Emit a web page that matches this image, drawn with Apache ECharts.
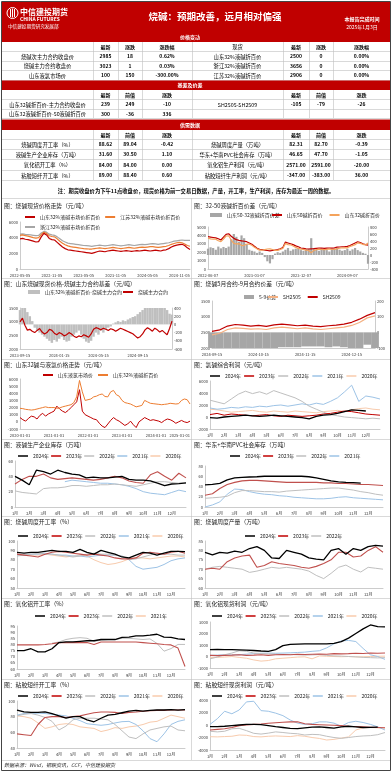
<!DOCTYPE html>
<html><head><meta charset="utf-8">
<script src="https://cdn.jsdelivr.net/npm/echarts@6/dist/echarts.min.js"></script>
<style>html,body{margin:0;padding:0;background:#fff;}#c{width:392px;height:772px;}</style>
</head><body><div id="c"></div>
<script>
const FONT = '"Noto Sans CJK SC","Noto Sans",sans-serif';

// ---------------- table data ----------------
const PRICE_HEAD = ['', '最新', '涨跌', '涨跌幅', '现货', '最新', '涨跌', '涨跌幅'];
const PRICE_ROWS = [
  ['烧碱次主力合约收盘价','2985','18','0.62%','山东32%液碱折百价','2500','0','0.00%'],
  ['烧碱主力合约收盘价','3023','1','0.03%','浙江32%液碱折百价','3656','0','0.00%'],
  ['山东液氯市场价','100','150','-300.00%','江苏32%液碱折百价','2906','0','0.00%']
];
const SPREAD_HEAD = ['', '最新', '前值', '涨跌', '', '最新', '前值', '涨跌'];
const SPREAD_ROWS = [
  ['山东32碱折百价-主力合约收盘价','239','249','-10','SH2505-SH2509','-105','-79','-26'],
  ['山东32液碱折百价-50液碱折百价','300','-36','336','','','','']
];
const SUPPLY_HEAD = ['', '最新', '前值', '涨跌', '', '最新', '前值', '涨跌'];
const SUPPLY_ROWS = [
  ['烧碱周度开工率（%）','88.62','89.04','-0.42','烧碱周度产量（万吨）','82.31','82.70','-0.39'],
  ['液碱生产企业库存（万吨）','31.60','30.50','1.10','华东+华南PVC社会库存（万吨）','46.65','47.70','-1.05'],
  ['氧化铝开工率（%）','84.00','84.00','0.00','氧化铝生产利润（元/吨）','2571.00','2591.00','-20.00'],
  ['粘胶短纤开工率（%）','89.00','88.40','0.60','粘胶短纤生产利润（元/吨）','-347.00','-383.00','36.00']
];

// ---------------- tick labels ----------------
const TICKS1 = ['2022-05-05','2022-11-05','2023-05-05','2023-11-05','2024-05-05','2024-11-05'];
const TICKS2 = ['2022-06-07','2023-03-07','2023-12-07','2024-09-07'];
const TICKS3 = ['2023-09-15','2024-01-15','2024-05-15','2024-09-15'];
const TICKS4 = ['2024-09-15','2024-10-15','2024-11-15','2024-12-15'];
const TICKS5 = ['2020-01-01','2021-01-01','2022-01-01','2023-01-01','2024-01-01','2025-01-01'];
const MONTH_TICKS = ['1月','2月','3月','4月','5月','6月','7月','8月','9月','10月','11月','12月'];

// ---------------- chart 1: 烧碱现货价格走势 ----------------
const C1_ZJ = [4450,4480,4420,4400,4350, 4300,4250,4280,4600,4800, 4700,4450,4350,4300,4100, 3850,3600,3450,3300,3250, 3200,3150,3100,3050,3000, 2980,2950,2900,2950,3000, 3050,3000,2950,3000,3050, 3100,3050,3000,2950,3000, 3050,3100,3050,3000,3050, 3100,3150,3100,3150,3200, 3250,3200,3150,3200,3250, 3300,3350,3450,3550,3600, 3650,3700,3650,3656,3656];
const C1_JS = [4300,4350,4250,4200,4100, 4000,3950,4000,4400,4700, 4550,4250,4150,4100,3850, 3550,3300,3100,2950,2850, 2800,2750,2700,2650,2600, 2580,2550,2550,2600,2650, 2700,2650,2600,2650,2700, 2750,2700,2650,2600,2650, 2700,2750,2700,2650,2700, 2750,2800,2750,2800,2850, 2850,2800,2750,2800,2850, 2900,3000,3150,3250,3350, 3400,3350,3200,3000,2906];
const C1_SD = [3850,3900,3800,3750,3650, 3550,3450,3500,4100,4550, 4350,3900,3750,3700,3400, 3100,2800,2600,2450,2400, 2350,2300,2250,2200,2150, 2100,2050,2000,2100,2200, 2300,2250,2200,2300,2350, 2400,2350,2300,2250,2300, 2350,2300,2250,2300,2350, 2300,2350,2400,2350,2300, 2350,2400,2350,2300,2400, 2450,2600,2800,2950,3050, 3100,3150,3000,2700,2500];

// ---------------- chart 2: 32-50 液碱折百价差 ----------------
const C2_SPREAD = [180,220,200,150,240, 190,230,200,240,450, 600,520,380,560,480, 300,150,120,100,60, 100,60,-60,-180,-240, -120,40,80,60,100, 150,200,120,160,180, 200,140,120,160,180, 480,200,150,120,180, 160,140,100,160,180, 200,150,120,140,180, 120,160,200,140,100, 60,36,-250];
const C2_SD50 = [3850,3800,3750,3700,3600, 3450,3800,4130,4200,3900, 3650,3500,3400,3350,3300, 3250,3100,2950,2700,2460, 2350,2300,2250,2200,2150, 2200,2250,2300,2400,2550, 3200,3100,3000,2900,2750, 2650,2500,2460,2400,2380, 2400,2420,2450,2480,2500, 2460,2480,2500,2480,2520, 2600,2620,2650,2660,2700, 2800,2950,3100,3250,3150, 3000,2900,2850];
const C2_SD32 = [3670,3580,3550,3550,3360, 3260,3570,3930,3960,3450, 3050,2980,3020,2790,2820, 2950,2950,2830,2600,2400, 2250,2240,2310,2380,2390, 2320,2210,2220,2340,2450, 3050,2900,2880,2740,2570, 2450,2360,2340,2240,2200, 1920,2220,2300,2360,2320, 2300,2340,2400,2320,2340, 2400,2470,2530,2520,2520, 2680,2790,2900,3110,3050, 2940,2864,3100];

// ---------------- chart 3: 基差 ----------------
const C3_BASIS = [350,420,400,300,200, 80,-80,-150,-200,-250, -300,-350,-400,-450,-380, -420,-350,-300,-380,-420, -400,-300,-250,-200,-150, -250,-350,-420,-450,-400, -300,-200,-250,-150,-200, -120,-80,-50,20,50, 80,60,100,80,120, 150,180,200,250,300, 350,450,520,550,500, 530,560,520,480,420, 350,260,239];
const C3_MAIN = [2990,3130,2870,2690,2720, 2650,2600,2680,2750,2620, 2550,2600,2720,2680,2580, 2520,2600,2560,2480,2520, 2600,2550,2470,2420,2480, 2450,2520,2480,2430,2550, 2720,2780,2750,2700,2760, 2720,2680,2740,2710,2650, 2700,2760,2720,2680,2640, 2600,2560,2480,2400,2450, 2550,2700,2780,2720,2650, 2760,2700,2620,2680,2600, 2520,2750,3020];

// ---------------- chart 4: 5-9 价差 ----------------
const C4_SPREAD = [-110,-110,-110,-110,-105,-100,-105,-100,-100,-95,-95,-95,-90,-90,-90,-95,-90,-95,-100,-105,-79,-105];
const C4_SH2505 = [2420,2470,2590,2640,2625,2600,2615,2590,2640,2665,2645,2615,2640,2610,2590,2615,2640,2665,2720,2815,2961,3023];
const C4_SH2509 = [2530,2580,2700,2750,2730,2700,2720,2690,2740,2760,2740,2710,2730,2700,2680,2710,2730,2760,2820,2920,3040,3128];

// ---------------- chart 5: 32碱与液氯 ----------------
const C5_CL = [600,300,100,500,800,700,400,900,1200,800,1100,1300,
  1500,2200,1800,1500,1300,1600,2000,2400,2800,4500,1500,1000,
  800,600,400,300,-200,-600,-800,-300,200,600,300,100,
  -200,-500,-300,100,-400,-800,0,300,600,400,200,300,
  200,100,-100,200,400,300,100,-200,0,200,0,-100, 100];
const C5_NAOH = [1900,1850,1750,1700,1650,1700,1800,1900,2000,2100,2000,2000,
  2000,1900,1950,2100,2200,2300,2400,2700,3500,5800,4200,3000,
  3100,3200,3500,3600,3800,3900,3550,3500,4200,4400,3800,3600,
  3000,2700,2600,2500,2300,2100,2200,2300,3000,2800,2600,2550,
  2500,2450,2400,2450,2500,2600,2550,2500,2550,3000,3200,3100, 2500];

// ---------------- chart 6: 氯碱综合利润 ----------------
const C6_2024 = [-100,-200,0,100,200,300,200,100,200,300,200,100,0,-100,-300,100,300,400,600,900,1200,1100,1000];
const C6_2023 = [400,600,300,500,400,300,200,300,400,200,100,300,200,100,200,300,500,600,800,1000,900,700,500,400,300];
const C6_2022 = [2800,2500,2200,3000,3800,4300,3900,4200,3800,4400,4000,3600,3200,2600,1800,1300,800,400,200,0,-100,-200,-300,-200,-300];
const C6_2021 = [1500,1300,1400,1600,1500,1700,1600,1800,1700,1900,2000,1800,2000,2200,2000,2300,2100,2600,3200,4200,5300,2600,3500,3300,3000];
const C6_2020 = [1300,1200,1000,800,900,1000,1100,900,800,1000,900,800,1000,900,800,700,900,1000,1100,900,1200,1400,1500,1300,1200];

// ---------------- chart 7: 液碱生产企业库存 ----------------
const C7_2024 = [40,35,29,48,46,43,48,45,43,42,38,39,38,38,39,40,36,35,35,34,31,28,30,30.5,31.6];
const C7_2023 = [30,36,40,40,43,38,36,37,38,37,36,35,36,38,40,38,34,32,31,42,46,40,35,44,38];
const C7_2022 = [21,19,18,17,24,25,25,26,28,28,27,28,29,29,30,29,28,27,29,31,33,33,32,31,31];
const C7_2021 = [null,null,null,null,null,null,null,33,35,34,33,32,31,31,30,29,27,24,20,18,17,16,19,22,20];
const C7_2020 = [];

// ---------------- chart 8: 华东+华南PVC社会库存 ----------------
const C8_2024 = [43,44,46,53,57,58,58.5,59,60,60,60,60,60,60,59,57,54,51,49,48,47.7,46.65];
const C8_2023 = [23,26,36,44,48,51,52,52,51,50,49,48,48,48,48,48,47,47,46,46,45,44,44,43,42];
const C8_2022 = [17,18,19,21,28,32,32,31,30,30,29,31,32,33,34,35,36,37,37,35,33,30,28,25,23];
const C8_2021 = [0,4,10,25,35,34,30,27,25,24,22,21,19,18,17,16,16,17,19,20,18,17,16,15,14];

// ---------------- chart 9: 烧碱周度开工率 ----------------
const C9_2024 = [88,87,88,88,89,90,89,89,88,91,88,86,90,88,86,83,82,85,88,87,85,87,89,89.04,88.62];
const C9_2023 = [86,85,84,83,86,88,89,88,87,86,85,86,85,84,82,81,81,82,87,88,87,86,88,89,87];
const C9_2022 = [84,85,86,87,86,86,85,84,83,84,86,87,86,86,85,84,80,81,83,85,87,86,86,85,85];
const C9_2021 = [85,85,86,86,87,86,85,85,84,84,83,84,85,85,85,84,80,73,70,71,72,75,79,81,82];
const C9_2020 = [85,85,85,85,86,85,84,83,84,85,84,80,77,75,76,78,81,82,82,81,82,83,84,84,83];

// ---------------- chart 10: 烧碱周度产量 ----------------
const C10_2024 = [79,77.6,79,78.5,79.6,79,81,82,80,76,75.7,80,79,78,76,75.4,75,80,81,78,81,80,82,82.7,82.31];
const C10_2023 = [70,70.5,70,74,76,77,77.5,71,72,74,73,72.5,72,71,70.5,71.5,73,75,79,79,76.5,77,80,82,79];
const C10_2022 = [70,71,71.5,71,70.5,70,68.3,69,70,71,70.5,71,70.5,70,69,66.7,65,67.8,71,72.2,70,68.5,71,70.5,70];

// ---------------- chart 11: 氧化铝开工率 ----------------
const C11_2024 = [75,75,76.5,74,74,76.5,81.5,82,82,82.5,83,83,84,84,84,85.8,86,87,87,87.5,88.3,86,85.8,84.5,84];
const C11_2023 = [79.6,79.6,79.6,79.6,80,80.5,81.5,81.5,81.5,81.5,81.5,80,82,82,82,82,82,82,81.5,81,80.5,80,79.6,77,62];
const C11_2022 = [null,null,null,null,null,81,82,84,85,85.5,85,82.6,83.3,84,84,85,85,84.5,84,84.5,80.8,74.5,76.6,80,80];
const C11_2021 = [];

// ---------------- chart 12: 氧化铝现货利润 ----------------
const C12_2024 = [600,620,600,600,580,560,520,480,450,600,950,1050,1080,1100,1100,1100,1100,1150,1300,1600,2000,2400,2740,2591,2571];
const C12_2023 = [100,80,100,120,150,100,120,150,100,150,180,150,200,180,200,220,200,250,230,250,280,260,300,280,300];
const C12_2022 = [-200,-50,150,300,500,450,300,250,230,200,180,170,150,120,140,170,100,50,30,0,-30,-80,-100,-120,-100];
const C12_2021 = [100,120,150,130,160,200,250,280,300,280,300,320,350,380,450,500,750,1100,1350,1400,1300,700,150,0,-250];
const C12_2020 = [-100,-80,-50,0,-80,-150,-300,-400,-350,-200,-150,-100,-50,-30,-200,50,20,0,-20,0,-30,-20,0,20,30];

// ---------------- chart 13: 粘胶短纤开工率 ----------------
const C13_2024 = [88.5,86,85.5,85.5,86,84,81,78,80,80,76,73.5,78,82,83,85,87,88,87,88,88.5,88.5,89,88.4,89];
const C13_2023 = [58,57,56,70,79,80,80,79,80,81,83,85,86,86,85.5,84,85.5,86,87,87.5,88,88,88.5,88.5,88.5];
const C13_2022 = [81,83,84,82,79,74,63,68,76,78,78,78,77,76,70,62,54,52,58,63,65,67,68,63,62];
const C13_2021 = [82,84,84,84.5,84,83,82,81,78,75,71,70,69,70,72,73.6,74,70,62,52,48,58,70,74,76];
const C13_2020 = [81,80,78,72,65,67,70,71,70,67,66,65,61,63,66,65,67,68,70,73,74,78,82,80,78];

// ---------------- chart 14: 粘胶短纤现货利润 ----------------
const C14_2024 = [-270,-250,-200,-100,0,100,110,50,-100,-270,-400,-530,-580,-450,-350,-300,-400,-500,-300,-200,-300,-400,-383,-347];
const C14_2023 = [-800,-700,-600,-400,-100,0,100,150,270,350,430,500,530,200,100,50,0,-50,-100,-200,-250,-300,-350,-400,-450];
const C14_2022 = [-1000,-1100,-1000,-600,-530,-900,-1330,-1450,-1300,-1100,-1200,-1330,-1400,-1600,-1500,-1550,-1800,-2000,-2130,-2000,-1850,-1750,-1700,-1550,-1200];
const C14_2021 = [100,1000,2200,1800,2400,3700,3800,2300,2200,1900,1500,800,300,100,200,500,500,300,-200,400,600,400,100,-300,-800];
const C14_2020 = [-1870,-1900,-1850,-1800,-1600,-1650,-1850,-1900,-1800,-1750,-1800,-1850,-1700,-1800,-2000,-2150,-2400,-2300,-2100,-1900,-800,-450,-400,-450,-500];

// ---------------- category builders ----------------
function pad(n){ return (n < 10 ? '0' : '') + n; }
function dateCats(y, m, days, startIdx, count) {
  const out = []; let di = startIdx;
  while (out.length < count) {
    out.push(y + '-' + pad(m) + '-' + pad(days[di]));
    di++;
    if (di >= days.length) { di = 0; m++; if (m > 12) { m = 1; y++; } }
  }
  return out;
}
const CATS1 = dateCats(2022, 5, [5, 20], 0, C1_SD.length);
const CATS2 = dateCats(2022, 6, [7, 22], 0, C2_SD50.length);
const CATS3 = dateCats(2023, 9, [1, 8, 15, 22], 2, C3_MAIN.length);
const CATS4 = dateCats(2024, 9, [5, 10, 15, 20, 25, 30], 2, C4_SH2509.length);
const CATS5 = dateCats(2020, 1, [1], 0, C5_CL.length);
const SEASON_CATS = [];
MONTH_TICKS.forEach(function (m) { SEASON_CATS.push(m); SEASON_CATS.push(m + '下旬'); });
SEASON_CATS.push('年末');

// ---------------- colors ----------------
const Y24 = '#000000', Y23 = '#c0504d', Y22 = '#bfbfbf', Y21 = '#9dc3e6', Y20 = '#f8cbad';
const RED = '#c00000', ORANGE = '#ed7d31', GRAY = '#a6a6a6';

// ---------------- graphic (header, tables, panels) ----------------
const G = [];
function rect(x, y, w, h, fill, stroke, lw) {
  G.push({ type: 'rect', silent: true, shape: { x: x, y: y, width: w, height: h },
    style: { fill: fill || 'none', stroke: stroke || 'none', lineWidth: lw || 1 } });
}
function hline(x1, x2, y, color, lw) {
  G.push({ type: 'line', silent: true, shape: { x1: x1, y1: y, x2: x2, y2: y }, style: { stroke: color, lineWidth: lw || 0.6 } });
}
function vline(x, y1, y2, color, lw) {
  G.push({ type: 'line', silent: true, shape: { x1: x, y1: y1, x2: x, y2: y2 }, style: { stroke: color, lineWidth: lw || 0.6 } });
}
function txt(x, y, text, size, opt) {
  opt = opt || {};
  G.push({ type: 'text', silent: true, z: 10, style: { x: x, y: y, text: text,
    font: (opt.italic ? 'italic ' : '') + (opt.bold ? 'bold ' : '') + size + 'px ' + FONT,
    fill: opt.color || '#000', textAlign: opt.align || 'center', textVerticalAlign: 'middle' } });
}

// header
rect(2, 2, 388, 40, RED);
G.push({ type: 'circle', silent: true, shape: { cx: 12.5, cy: 13, r: 5.5 }, style: { fill: 'none', stroke: '#fff', lineWidth: 1 } });
vline(10.5, 9, 17, '#fff', 1); vline(12.5, 8.5, 17.5, '#fff', 1); vline(14.5, 9, 17, '#fff', 1);
txt(20, 12, '中信建投期货', 8, { bold: true, color: '#fff', align: 'left' });
txt(20, 19.5, 'CHINA FUTURES', 5, { bold: true, color: '#fff', align: 'left' });
txt(8, 26.5, '中信建投期货研究发展部', 4.6, { color: '#fff', align: 'left' });
txt(215, 16, '烧碱：预期改善，远月相对偏强', 9.5, { bold: true, color: '#fff' });
txt(362, 19.5, '本报告完成时间', 5, { bold: true, color: '#fff' });
txt(362, 27, '2025年1月3日', 5, { color: '#fff' });
txt(190, 37, '价格变动', 5, { bold: true, color: '#fff' });

const TCOLS = [2, 93, 118, 142, 192, 283, 309, 333, 390];
const LINEC = '#bfbfbf';
function drawTable(head, rows, rowEdges) {
  const top = rowEdges[0], bottom = rowEdges[rowEdges.length - 1];
  for (let i = 1; i < rowEdges.length; i++) hline(2, 390, rowEdges[i] + 0.5, LINEC);
  for (let c = 1; c < TCOLS.length - 1; c++) vline(TCOLS[c] + 0.5, top, bottom, LINEC);
  const all = [head].concat(rows);
  all.forEach(function (row, r) {
    const cy = (rowEdges[r] + rowEdges[r + 1]) / 2 + 0.5;
    row.forEach(function (cell, c) {
      if (!cell) return;
      const cx = (TCOLS[c] + TCOLS[c + 1]) / 2;
      const isLabel = (c === 0 || c === 4);
      const bold = r === 0 ? !(c === 4) : !isLabel;
      txt(cx, cy, cell, isLabel ? 5.3 : 5, { bold: bold, color: '#000' });
    });
  });
}
drawTable(PRICE_HEAD, PRICE_ROWS, [42, 51, 61, 70, 80]);
rect(2, 80.5, 388, 9.5, RED);
txt(190, 85.5, '基差及价差', 5, { bold: true, color: '#fff' });
drawTable(SPREAD_HEAD, SPREAD_ROWS, [90, 99, 109, 118]);
rect(2, 119.5, 388, 10.5, RED);
txt(190, 125, '供需数据', 5, { bold: true, color: '#fff' });
drawTable(SUPPLY_HEAD, SUPPLY_ROWS, [130, 139, 149, 159, 170, 180]);
txt(196, 191, '注：期货收盘价为下午11点收盘价，现货价格为前一交易日数据，产量，开工率，生产利润，库存为最近一周的数据。', 5.3, { bold: true });

// panels
const ROW_TOPS = [198, 278, 359, 439, 516, 598, 679];
const TITLE_Y = [206, 284, 365, 445, 522, 604, 685];
ROW_TOPS.forEach(function (y) { hline(2, 390, y + 0.5, LINEC); });
hline(2, 390, 760.5, LINEC);
vline(191.5, 198, 760, LINEC);
const TITLES = [
  ['图：烧碱现货价格走势（元/吨）', '图：32-50液碱折百价差（元/吨）'],
  ['图：山东烧碱现货价格-烧碱主力合约基差（元/吨）', '图：烧碱5月合约-9月合约价差（元/吨）'],
  ['图：山东32碱与液氯价格走势（元/吨）', '图：氯碱综合利润（元/吨）'],
  ['图：液碱生产企业库存（万吨）', '图：华东+华南PVC社会库存（万吨）'],
  ['图：烧碱周度开工率（%）', '图：烧碱周度产量（万吨）'],
  ['图：氧化铝开工率（%）', '图：氧化铝现货利润（元/吨）'],
  ['图：粘胶短纤开工率（%）', '图：粘胶短纤现货利润（元/吨）']
];
TITLES.forEach(function (pair, i) {
  txt(4, TITLE_Y[i], pair[0], 5.8, { align: 'left', color: '#222' });
  txt(194, TITLE_Y[i], pair[1], 5.8, { align: 'left', color: '#222' });
});
txt(4, 765.5, '数据来源：Wind，钢联资讯，CCF，中信建投期货', 5, { align: 'left', italic: true, color: '#333' });
rect(1.5, 1.5, 389, 769, 'none', '#444', 1);

// ---------------- charts ----------------
const grids = [], xAxes = [], yAxes = [], series = [], legends = [];
const AXC = '#bfbfbf';
function plainNum(v) { return String(v); }
function addChart(g, cats, intervalFn, yDefs, xExtra) {
  const gi = grids.length;
  grids.push({ left: g[0], top: g[1], width: g[2], height: g[3], containLabel: false, outerBoundsMode: 'none' });
  const xi = xAxes.length;
  xAxes.push(Object.assign({
    type: 'category', gridIndex: gi, data: cats, boundaryGap: false,
    axisLine: { onZero: false, lineStyle: { color: AXC, width: 0.8 } },
    axisTick: { show: false }, splitLine: { show: false },
    axisLabel: { fontSize: 4, color: '#333', margin: 4, interval: intervalFn, fontFamily: FONT, hideOverlap: false }
  }, xExtra || {}));
  const yis = yDefs.map(function (d) {
    yAxes.push({ type: 'value', gridIndex: gi, min: d.min, max: d.max, interval: d.interval,
      position: d.position || 'left',
      axisLine: { show: true, lineStyle: { color: AXC, width: 0.8 } },
      axisTick: { show: false }, splitLine: { show: false },
      axisLabel: { fontSize: 4, color: '#333', margin: 2, fontFamily: FONT, formatter: plainNum, hideOverlap: false } });
    return yAxes.length - 1;
  });
  return { xi: xi, yis: yis };
}
function line(name, data, color, ax, yi, w) {
  series.push({ type: 'line', name: name, data: data, xAxisIndex: ax.xi, yAxisIndex: ax.yis[yi || 0],
    symbol: 'none', showSymbol: false, lineStyle: { color: color, width: w || 1 }, itemStyle: { color: color } });
}
function bar(name, data, color, ax, yi, gap) {
  series.push({ type: 'bar', name: name, data: data, xAxisIndex: ax.xi, yAxisIndex: ax.yis[yi || 0],
    barCategoryGap: gap || '0%', itemStyle: { color: color } });
}
function addLegend(names, left, top, extra) {
  legends.push(Object.assign({ data: names, left: left, top: top, orient: 'horizontal', icon: 'rect',
    itemWidth: 10, itemHeight: 1.5, itemGap: 4, padding: 0, selectedMode: false,
    textStyle: { fontSize: 5, color: '#222', fontFamily: FONT } }, extra || {}));
}
function tickFn(ticks) { return function (i, v) { return ticks.indexOf(v) >= 0; }; }
const seasonFn = function (i) { return i % 2 === 0 && i < 24; };

// chart 1
let a = addChart([20, 222, 170, 47], CATS1, tickFn(TICKS1), [{ min: 0, max: 6000, interval: 2000 }]);
line('浙江32%液碱市场价折百价', C1_ZJ, GRAY, a, 0, 1.2);
line('江苏32%液碱市场价折百价', C1_JS, ORANGE, a, 0, 1.2);
line('山东32%液碱市场价折百价', C1_SD, RED, a, 0, 1.2);
addLegend(['山东32%液碱市场价折百价', '江苏32%液碱市场价折百价'], 25, 214.5, { itemGap: 5, itemHeight: 2 });
addLegend(['浙江32%液碱市场价折百价'], 25, 224.5, { itemHeight: 2 });

// chart 2
a = addChart([208, 227, 160, 42], CATS2, tickFn(TICKS2), [{ min: 0, max: 5000, interval: 1000 }, { min: -400, max: 800, interval: 200, position: 'right' }]);
bar('山东50-32液碱折百价差', C2_SPREAD, GRAY, a, 1, '15%');
line('山东50碱折百价', C2_SD50, RED, a, 0, 1.2);
line('山东32碱折百价', C2_SD32, '#f4a35c', a, 0, 1.2);
addLegend(['山东50-32液碱折百价差'], 210, 212.5, { itemWidth: 12, itemHeight: 4 });
addLegend(['山东50碱折百价', '山东32碱折百价'], 272, 212.5, { itemGap: 7, itemHeight: 2 });

// chart 3
a = addChart([20, 308, 152, 41], CATS3, tickFn(TICKS3), [{ min: 2000, max: 3500, interval: 500 }, { min: -600, max: 400, interval: 200, position: 'right' }]);
bar('山东32%液碱折百价-烧碱主力合约', C3_BASIS, '#bfbfbf', a, 1, '0%');
line('烧碱主力合约', C3_MAIN, RED, a, 0, 1.2);
addLegend(['山东32%液碱折百价-烧碱主力合约'], 28, 289.5, { itemWidth: 12, itemHeight: 4 });
addLegend(['烧碱主力合约'], 123, 289.5, { itemHeight: 2 });

// chart 4
a = addChart([212, 301, 163, 47], CATS4, tickFn(TICKS4), [{ min: 2000, max: 3500, interval: 500 }, { min: -100, max: 200, interval: 100, position: 'right' }]);
bar('5-9价差', C4_SPREAD, GRAY, a, 1, '0%');
line('SH2505', C4_SH2505, '#f4b183', a, 0, 1.2);
line('SH2509', C4_SH2509, RED, a, 0, 1.2);
addLegend(['5-9价差'], 244, 294.5, { itemWidth: 10, itemHeight: 4 });
addLegend(['SH2505', 'SH2509'], 268, 294.5, { itemGap: 7, itemHeight: 2 });

// chart 5
a = addChart([20, 379, 170, 50], CATS5, tickFn(TICKS5), [{ min: -1000, max: 6000, interval: 1000 }]);
xAxes[a.xi].axisLabel.alignMaxLabel = 'right';
line('山东液氯市场价', C5_CL, RED, a, 0, 1);
line('山东32%液碱折百价', C5_NAOH, ORANGE, a, 0, 1);
addLegend(['山东液氯市场价', '山东32%液碱折百价'], 43, 372.5, { itemGap: 5, itemHeight: 2 });

function seasonal(g, yDef, list, legLeft, legTop, legNames, legExtra) {
  const ax = addChart(g, SEASON_CATS, seasonFn, [yDef]);
  list.forEach(function (s) { line(s[0], s[1], s[2], ax, 0, s[3]); });
  addLegend(legNames, legLeft, legTop, Object.assign({ itemGap: 3 }, legExtra || {}));
}
const Y5 = ['2024年', '2023年', '2022年', '2021年', '2020年'];

// chart 6
seasonal([210, 381, 170, 48], { min: -2000, max: 6000, interval: 2000 },
  [['2020年', C6_2020, Y20, 1], ['2021年', C6_2021, Y21, 1], ['2022年', C6_2022, Y22, 1], ['2023年', C6_2023, RED, 1], ['2024年', C6_2024, Y24, 1.3]],
  210, 373.5, Y5);
// chart 7
seasonal([15, 461, 171, 46], { min: 0, max: 60, interval: 20 },
  [['2020年', C7_2020, Y20, 1], ['2021年', C7_2021, Y21, 1], ['2022年', C7_2022, Y22, 1], ['2023年', C7_2023, Y23, 1.1], ['2024年', C7_2024, Y24, 1.3]],
  18, 453.5, Y5, { itemGap: 2 });
// chart 8
seasonal([205, 466, 178, 41], { min: 0, max: 80, interval: 20 },
  [['2021年', C8_2021, Y21, 1], ['2022年', C8_2022, Y22, 1], ['2023年', C8_2023, Y23, 1.1], ['2024年', C8_2024, Y24, 1.3]],
  230, 453.5, ['2024年', '2023年', '2022年', '2021年'], { itemGap: 2 });
// chart 9
seasonal([17, 541, 168, 47], { min: 50, max: 100, interval: 10 },
  [['2020年', C9_2020, Y20, 1], ['2021年', C9_2021, Y21, 1], ['2022年', C9_2022, Y22, 1], ['2023年', C9_2023, Y23, 1.1], ['2024年', C9_2024, Y24, 1.3]],
  18, 533.5, Y5, { itemGap: 2.5 });
// chart 10
seasonal([205, 541, 178, 47], { min: 60, max: 85, interval: 5 },
  [['2022年', C10_2022, Y22, 1], ['2023年', C10_2023, Y23, 1.1], ['2024年', C10_2024, Y24, 1.3]],
  245, 533.5, ['2024年', '2023年', '2022年'], { itemGap: 2 });
// chart 11
seasonal([17, 626, 168, 43], { min: 60, max: 95, interval: 5 },
  [['2021年', C11_2021, Y20, 1], ['2022年', C11_2022, Y22, 1], ['2023年', C11_2023, Y23, 1.1], ['2024年', C11_2024, Y24, 1.3]],
  35, 613.5, ['2024年', '2023年', '2022年', { name: '2021年', itemStyle: { color: Y20 } }], { itemGap: 2.5 });
// chart 12
seasonal([210, 622, 175, 46], { min: -1000, max: 3000, interval: 1000 },
  [['2020年', C12_2020, Y20, 1], ['2021年', C12_2021, Y21, 1], ['2022年', C12_2022, Y22, 1], ['2023年', C12_2023, Y23, 1.1], ['2024年', C12_2024, Y24, 1.3]],
  212, 613.5, Y5, { itemGap: 2.5 });
// chart 13
seasonal([17, 701, 168, 47], { min: 40, max: 100, interval: 20 },
  [['2020年', C13_2020, Y20, 1], ['2021年', C13_2021, Y21, 1], ['2022年', C13_2022, Y22, 1], ['2023年', C13_2023, Y23, 1.1], ['2024年', C13_2024, Y24, 1.3]],
  18, 693.5, Y5, { itemGap: 2.5 });
// chart 14
seasonal([210, 700, 175, 50], { min: -4000, max: 4000, interval: 2000 },
  [['2020年', C14_2020, Y20, 1], ['2021年', C14_2021, Y21, 1], ['2022年', C14_2022, Y22, 1], ['2023年', C14_2023, Y23, 1.1], ['2024年', C14_2024, Y24, 1.3]],
  212, 693.5, Y5, { itemGap: 2.5 });

const chart = echarts.init(document.getElementById('c'), null, { renderer: 'canvas', width: 392, height: 772 });
chart.setOption({
  animation: false,
  backgroundColor: '#ffffff',
  textStyle: { fontFamily: FONT },
  grid: grids, xAxis: xAxes, yAxis: yAxes, series: series, legend: legends,
  graphic: { elements: G }
});
</script></body></html>
